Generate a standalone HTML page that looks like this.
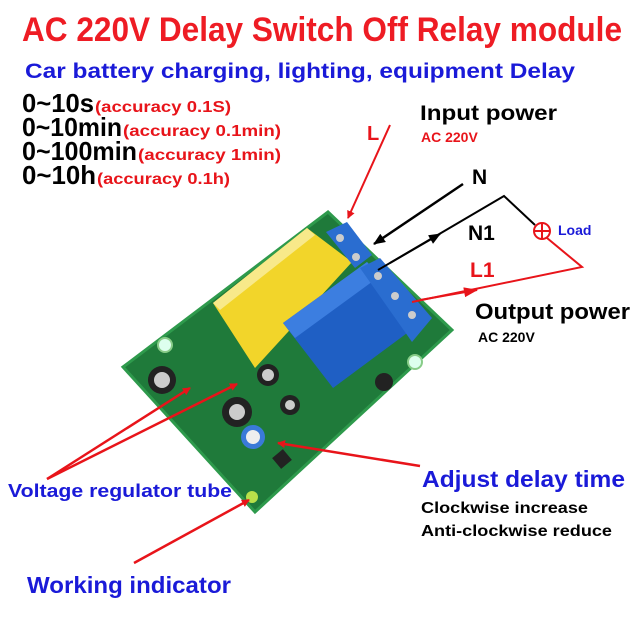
<!DOCTYPE html>
<html><head><meta charset="utf-8"><style>
html,body{margin:0;padding:0;background:#fff}
svg{display:block}
text{font-family:"Liberation Sans",sans-serif;font-weight:bold}
</style></head><body>
<svg width="640" height="640" viewBox="0 0 640 640" xmlns="http://www.w3.org/2000/svg">
<defs>
<marker id="ar" markerWidth="8" markerHeight="8" refX="7" refY="4" orient="auto" markerUnits="userSpaceOnUse"><path d="M0,0 L8,4 L0,8 z" fill="#e8141a"/></marker>
<marker id="ab" markerWidth="12" markerHeight="10" refX="11" refY="5" orient="auto" markerUnits="userSpaceOnUse"><path d="M0,0 L12,5 L0,10 z" fill="#000"/></marker>
<marker id="arr" markerWidth="14" markerHeight="10" refX="13" refY="5" orient="auto" markerUnits="userSpaceOnUse"><path d="M0,0 L14,5 L0,10 z" fill="#e8141a"/></marker>
</defs>
<rect width="640" height="640" fill="#fff"/>
<text x="22" y="41" font-size="34" fill="#ee1c24" textLength="600" lengthAdjust="spacingAndGlyphs">AC 220V Delay Switch Off Relay module</text>
<text x="25" y="78" font-size="21" fill="#1a1ad8" textLength="550" lengthAdjust="spacingAndGlyphs">Car battery charging, lighting, equipment Delay</text>
<text x="22" y="112" font-size="26" fill="#000" textLength="72" lengthAdjust="spacingAndGlyphs">0~10s</text>
<text x="95" y="112" font-size="16" fill="#e8141a" textLength="136" lengthAdjust="spacingAndGlyphs">(accuracy 0.1S)</text>
<text x="22" y="136" font-size="26" fill="#000" textLength="100" lengthAdjust="spacingAndGlyphs">0~10min</text>
<text x="123" y="136" font-size="16" fill="#e8141a" textLength="158" lengthAdjust="spacingAndGlyphs">(accuracy 0.1min)</text>
<text x="22" y="160" font-size="26" fill="#000" textLength="115" lengthAdjust="spacingAndGlyphs">0~100min</text>
<text x="138" y="160" font-size="16" fill="#e8141a" textLength="143" lengthAdjust="spacingAndGlyphs">(accuracy 1min)</text>
<text x="22" y="184" font-size="26" fill="#000" textLength="74" lengthAdjust="spacingAndGlyphs">0~10h</text>
<text x="97" y="184" font-size="16" fill="#e8141a" textLength="133" lengthAdjust="spacingAndGlyphs">(accuracy 0.1h)</text>
<text x="420" y="120" font-size="21" fill="#000" textLength="137" lengthAdjust="spacingAndGlyphs">Input power</text>
<text x="421" y="142" font-size="14" fill="#e8141a">AC 220V</text>
<text x="367" y="140" font-size="20" fill="#e8141a">L</text>
<text x="472" y="184" font-size="21" fill="#000">N</text>
<text x="468" y="240" font-size="21" fill="#000">N1</text>
<text x="470" y="277" font-size="21" fill="#e8141a">L1</text>
<text x="558" y="235" font-size="14" fill="#1a1ad8">Load</text>
<text x="475" y="319" font-size="22" fill="#000" textLength="155" lengthAdjust="spacingAndGlyphs">Output power</text>
<text x="478" y="342" font-size="14" fill="#000">AC 220V</text>
<text x="422" y="487" font-size="23" fill="#1a1ad8" textLength="203" lengthAdjust="spacingAndGlyphs">Adjust delay time</text>
<text x="421" y="513" font-size="16" fill="#000" textLength="167" lengthAdjust="spacingAndGlyphs">Clockwise increase</text>
<text x="421" y="536" font-size="16" fill="#000" textLength="191" lengthAdjust="spacingAndGlyphs">Anti-clockwise reduce</text>
<text x="8" y="497" font-size="18" fill="#1a1ad8" textLength="224" lengthAdjust="spacingAndGlyphs">Voltage regulator tube</text>
<text x="27" y="593" font-size="23" fill="#1a1ad8" textLength="204" lengthAdjust="spacingAndGlyphs">Working indicator</text>
<polygon points="123,367 328,212 452,330 255,512" fill="#1f7a3a"/>
<polygon points="123,367 328,212 452,330 255,512" fill="none" stroke="#2e9a4c" stroke-width="3"/>
<circle cx="165" cy="345" r="7" fill="#dfe" stroke="#8c8" stroke-width="2"/>
<circle cx="415" cy="362" r="7" fill="#dfe" stroke="#8c8" stroke-width="2"/>
<polygon points="213,303 307,228 352,262 255,368" fill="#f2d52a"/>
<polygon points="213,303 307,228 315,235 220,310" fill="#f8e98a"/>
<polygon points="283,323 367,262 422,322 333,388" fill="#1f5fc4"/>
<polygon points="283,323 367,262 380,276 295,338" fill="#3c7ee0"/>
<polygon points="326,232 347,222 372,255 355,268" fill="#2a6dd0"/>
<polygon points="360,268 380,258 432,318 412,342" fill="#2a6dd0"/>
<circle cx="340" cy="238" r="4" fill="#ccc"/><circle cx="356" cy="257" r="4" fill="#ccc"/>
<circle cx="378" cy="276" r="4" fill="#ccc"/><circle cx="395" cy="296" r="4" fill="#ccc"/><circle cx="412" cy="315" r="4" fill="#ccc"/>
<circle cx="162" cy="380" r="14" fill="#222"/><circle cx="162" cy="380" r="8" fill="#ccc"/>
<circle cx="237" cy="412" r="15" fill="#222"/><circle cx="237" cy="412" r="8" fill="#ccc"/>
<circle cx="268" cy="375" r="11" fill="#222"/><circle cx="268" cy="375" r="6" fill="#ccc"/>
<circle cx="290" cy="405" r="10" fill="#222"/><circle cx="290" cy="405" r="5" fill="#ccc"/>
<circle cx="384" cy="382" r="9" fill="#222"/>
<circle cx="253" cy="437" r="12" fill="#3a7ad8"/><circle cx="253" cy="437" r="7" fill="#eee"/>
<rect x="275" y="452" width="14" height="14" fill="#222" transform="rotate(-40 282 459)"/>
<circle cx="252" cy="497" r="6" fill="#b8e04a"/>
<line x1="390" y1="125" x2="348" y2="218" stroke="#e8141a" stroke-width="2" marker-end="url(#ar)"/>
<line x1="463" y1="184" x2="374" y2="244" stroke="#000" stroke-width="2.5" marker-end="url(#ab)"/>
<polyline points="378,270 504,196 535,225" fill="none" stroke="#000" stroke-width="2"/>
<line x1="390" y1="263" x2="440" y2="234" stroke="#000" stroke-width="2" marker-end="url(#ab)"/>
<circle cx="542" cy="231" r="8" fill="#fff" stroke="#e8141a" stroke-width="2"/>
<line x1="534" y1="231" x2="550" y2="231" stroke="#e8141a" stroke-width="2"/>
<line x1="542" y1="223" x2="542" y2="239" stroke="#e8141a" stroke-width="2"/>
<polyline points="547,238 582,267 412,302" fill="none" stroke="#e8141a" stroke-width="2"/>
<line x1="420" y1="300" x2="477" y2="290" stroke="#e8141a" stroke-width="2" marker-end="url(#arr)"/>
<line x1="47" y1="479" x2="190" y2="388" stroke="#e8141a" stroke-width="2.5" marker-end="url(#ar)"/>
<line x1="47" y1="479" x2="237" y2="384" stroke="#e8141a" stroke-width="2.5" marker-end="url(#ar)"/>
<line x1="420" y1="466" x2="278" y2="443" stroke="#e8141a" stroke-width="2.5" marker-end="url(#ar)"/>
<line x1="134" y1="563" x2="249" y2="500" stroke="#e8141a" stroke-width="2.5" marker-end="url(#ar)"/>
</svg>
</body></html>
